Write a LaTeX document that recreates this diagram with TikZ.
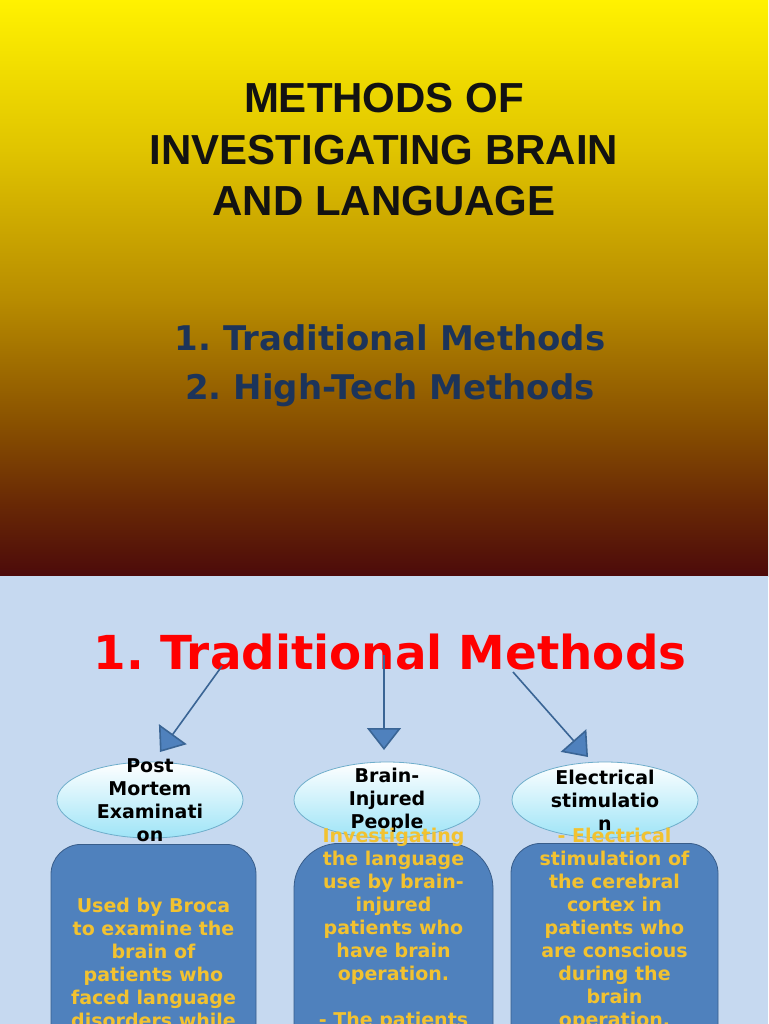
\documentclass[tikz,border=0pt]{standalone}
\usepackage{fontspec}
\setmainfont{DejaVu Sans}
\newfontfamily\titlefont{Liberation Sans}
\usetikzlibrary{shapes.geometric, arrows.meta}
\frenchspacing
\definecolor{lemon}{HTML}{FFF200}
\definecolor{mustard}{HTML}{E0C400}
\definecolor{ochre}{HTML}{B88C00}
\definecolor{umber}{HTML}{8A5200}
\definecolor{rust}{HTML}{6A2A05}
\definecolor{darkred}{HTML}{4C0A0A}
\definecolor{slideblue}{HTML}{C6D9F0}
\definecolor{boxblue}{HTML}{4F81BD}
\definecolor{boxedge}{HTML}{385D8A}
\definecolor{arrowline}{HTML}{3A6595}
\definecolor{ovalcyan}{HTML}{9EE4F7}
\definecolor{ovaledge}{HTML}{6FAECB}
\definecolor{gold}{HTML}{F2C230}
\definecolor{navy}{HTML}{1C345A}
\pgfdeclareverticalshading{slidefade}{100bp}{color(0bp)=(darkred); color(25bp)=(darkred); color(31.6bp)=(rust); color(38.5bp)=(umber); color(49bp)=(ochre); color(62bp)=(mustard); color(75bp)=(lemon); color(100bp)=(lemon)}

\begin{document}
\begin{tikzpicture}[x=1pt, y=-1pt,
    oval/.style={ellipse, draw=ovaledge, thick, top color=white, bottom color=ovalcyan, minimum width=186, minimum height=76, inner sep=0pt},
    ovaltext/.style={align=center, inner sep=0pt, font=\fontsize{19}{23}\selectfont\bfseries},
    bluebox/.style={draw=boxedge, thick, fill=boxblue, minimum height=230, anchor=north, inner sep=0pt},
    boxtext/.style={align=center, inner sep=0pt, anchor=north, text=gold, font=\fontsize{19}{23}\selectfont\bfseries},
    pointer/.style={draw=arrowline, line width=1.6pt, -{Triangle[length=22pt, width=34pt, fill=boxblue]}}
]
  \useasboundingbox (0,0) rectangle (768,1024);
  \clip (0,0) rectangle (768,1024);
  \shade[shading=slidefade] (0,0) rectangle (768,576);
  \fill[slideblue] (0,576) rectangle (768,1024);

  \node[anchor=base, align=center, text=black!93, font=\titlefont\bfseries\fontsize{42}{51.5}\selectfont] (title) at (384,216)
    {METHODS OF\\INVESTIGATING BRAIN\\AND LANGUAGE};
  \node[anchor=base, align=center, text=navy, font=\fontsize{34}{49}\selectfont\bfseries] (list) at (390,399)
    {1. Traditional Methods\\2. High-Tech Methods};

  \node[anchor=base, text=red, font=\fontsize{46.8}{56}\selectfont\bfseries] (trad) at (390,669) {1. Traditional Methods};

  \node[bluebox, minimum width=205, rounded corners=30pt] (b1) at (153.5,844) {};
  \node[bluebox, minimum width=199, rounded corners=45pt] (b2) at (393.5,843) {};
  \node[bluebox, minimum width=207, rounded corners=30pt] (b3) at (614.5,843) {};

  \node[oval] (e1) at (150,800) {};
  \node[oval] (e2) at (387,800) {};
  \node[oval] (e3) at (605,800) {};
  \node[ovaltext] (l1) at (e1.center) {Post\\Mortem\\Examinati\\on};
  \node[ovaltext] (l2) at (e2.center) {Brain-\\Injured\\People};
  \node[ovaltext] (l3) at (e3.center) {Electrical\\stimulatio\\n};

  \node[boxtext] (d1) at (153.5,898) {Used by Broca\\to examine the\\brain of\\patients who\\faced language\\disorders while};
  \node[boxtext] (d2) at (393.5,828) {Investigating\\the language\\use by brain-\\injured\\patients who\\have brain\\operation.\\[23pt]- The patients};
  \node[boxtext] (d3) at (614.5,828) {- Electrical\\stimulation of\\the cerebral\\cortex in\\patients who\\are conscious\\during the\\brain\\operation.};

  \coordinate (s1) at (222,666);
  \coordinate (s2) at (384,655);
  \coordinate (s3) at (513,672);
  \coordinate (t1) at (160,752);
  \coordinate (t2) at (384,750);
  \coordinate (t3) at (588,757);
  \draw[pointer] (s1) -- (t1);
  \draw[pointer] (s2) -- (t2);
  \draw[pointer] (s3) -- (t3);
\end{tikzpicture}
\end{document}
